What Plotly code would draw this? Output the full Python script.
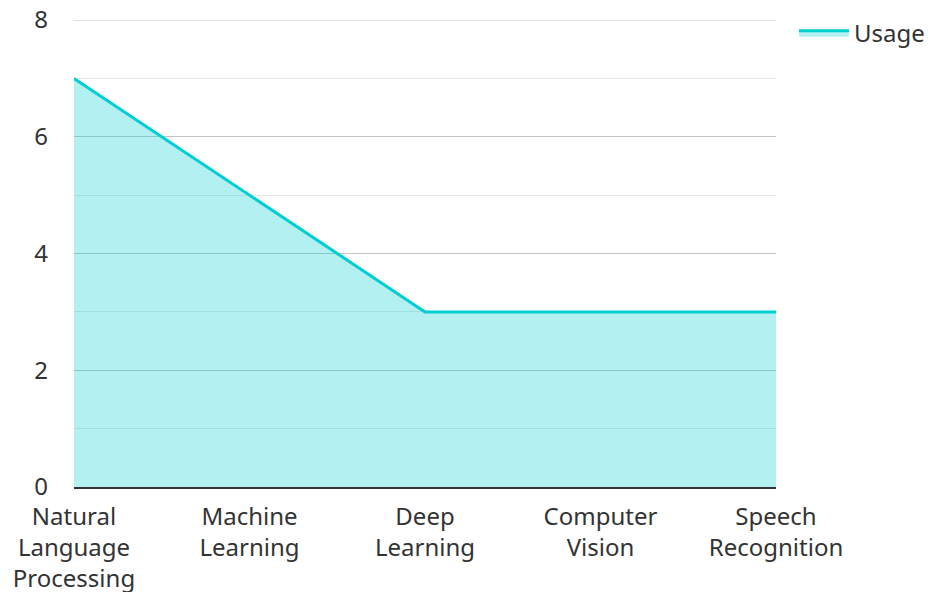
import plotly.graph_objects as go

categories = ["Natural<br>Language<br>Processing", "Machine<br>Learning", "Deep<br>Learning",
              "Computer<br>Vision", "Speech<br>Recognition"]
usage = [7, 5, 3, 3, 3]
y_ticks = [0, 2, 4, 6, 8]

fig = go.Figure()
fig.add_trace(go.Scatter(
    x=categories, y=usage, name="Usage", mode="lines",
    line=dict(color="#00CED1", width=3),
    fill="tozeroy", fillcolor="rgba(0,206,209,0.3)",
))

# top gridline (plotly omits grid lines that sit on the plot edge)
fig.add_hline(y=y_ticks[-1], line=dict(color="#c4c4c4", width=1), layer="below")

font_family = "Noto Sans, Open Sans, sans-serif"
fig.update_layout(
    width=934, height=592,
    margin=dict(l=66, r=166, t=12, b=113, autoexpand=False),
    paper_bgcolor="white", plot_bgcolor="white",
    font=dict(family=font_family, size=24, color="#333333"),
    showlegend=True,
    legend=dict(x=1.0256, y=1.02, xanchor="left", yanchor="top",
                font=dict(size=24, color="#333333"), itemwidth=50),
    xaxis=dict(range=[0, 4], showgrid=False, showline=True, linecolor="#333333",
               linewidth=2, ticks="", zeroline=False, tickfont=dict(size=24),
               ticklabelstandoff=7, automargin=False),
    yaxis=dict(range=[0, 8], tickvals=y_ticks, showgrid=True, gridcolor="#c4c4c4",
               gridwidth=1, zeroline=False, showline=False, ticks="",
               ticklabelstandoff=25, tickfont=dict(size=24), automargin=False,
               ticklabeloverflow="allow",
               minor=dict(dtick=1, showgrid=True, gridcolor="#e6e6e6", gridwidth=1)),
)

fig.write_html("out.html")
